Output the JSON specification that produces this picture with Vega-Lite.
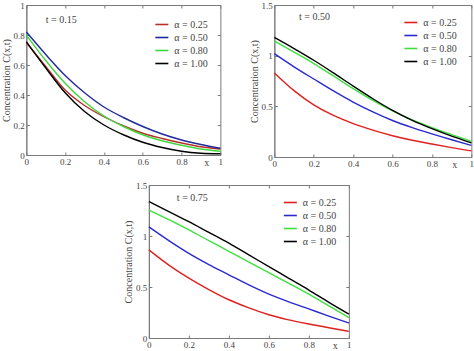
{
  "$schema": "https://vega.github.io/schema/vega-lite/v6.json",
  "padding": {"left": 0, "top": 0, "right": 0, "bottom": 0},
  "background": "white",
  "datasets": {
    "curves": [
      {"panel": "a", "alpha": "α = 0.25", "x": 0, "C": 0.75}, {"panel": "a", "alpha": "α = 0.25", "x": 0.1, "C": 0.59}, {"panel": "a", "alpha": "α = 0.25", "x": 0.2, "C": 0.433}, {"panel": "a", "alpha": "α = 0.25", "x": 0.3, "C": 0.33}, {"panel": "a", "alpha": "α = 0.25", "x": 0.4, "C": 0.255}, {"panel": "a", "alpha": "α = 0.25", "x": 0.5, "C": 0.195}, {"panel": "a", "alpha": "α = 0.25", "x": 0.6, "C": 0.145}, {"panel": "a", "alpha": "α = 0.25", "x": 0.7, "C": 0.11}, {"panel": "a", "alpha": "α = 0.25", "x": 0.8, "C": 0.08}, {"panel": "a", "alpha": "α = 0.25", "x": 0.9, "C": 0.055}, {"panel": "a", "alpha": "α = 0.25", "x": 1, "C": 0.04},
      {"panel": "a", "alpha": "α = 0.50", "x": 0, "C": 0.82}, {"panel": "a", "alpha": "α = 0.50", "x": 0.1, "C": 0.67}, {"panel": "a", "alpha": "α = 0.50", "x": 0.2, "C": 0.53}, {"panel": "a", "alpha": "α = 0.50", "x": 0.3, "C": 0.415}, {"panel": "a", "alpha": "α = 0.50", "x": 0.4, "C": 0.32}, {"panel": "a", "alpha": "α = 0.50", "x": 0.5, "C": 0.25}, {"panel": "a", "alpha": "α = 0.50", "x": 0.6, "C": 0.19}, {"panel": "a", "alpha": "α = 0.50", "x": 0.7, "C": 0.14}, {"panel": "a", "alpha": "α = 0.50", "x": 0.8, "C": 0.10}, {"panel": "a", "alpha": "α = 0.50", "x": 0.9, "C": 0.07}, {"panel": "a", "alpha": "α = 0.50", "x": 1, "C": 0.045},
      {"panel": "a", "alpha": "α = 0.80", "x": 0, "C": 0.80}, {"panel": "a", "alpha": "α = 0.80", "x": 0.1, "C": 0.63}, {"panel": "a", "alpha": "α = 0.80", "x": 0.2, "C": 0.478}, {"panel": "a", "alpha": "α = 0.80", "x": 0.3, "C": 0.355}, {"panel": "a", "alpha": "α = 0.80", "x": 0.4, "C": 0.26}, {"panel": "a", "alpha": "α = 0.80", "x": 0.5, "C": 0.19}, {"panel": "a", "alpha": "α = 0.80", "x": 0.6, "C": 0.135}, {"panel": "a", "alpha": "α = 0.80", "x": 0.7, "C": 0.095}, {"panel": "a", "alpha": "α = 0.80", "x": 0.8, "C": 0.065}, {"panel": "a", "alpha": "α = 0.80", "x": 0.9, "C": 0.04}, {"panel": "a", "alpha": "α = 0.80", "x": 1, "C": 0.025},
      {"panel": "a", "alpha": "α = 1.00", "x": 0, "C": 0.755}, {"panel": "a", "alpha": "α = 1.00", "x": 0.1, "C": 0.58}, {"panel": "a", "alpha": "α = 1.00", "x": 0.2, "C": 0.415}, {"panel": "a", "alpha": "α = 1.00", "x": 0.3, "C": 0.29}, {"panel": "a", "alpha": "α = 1.00", "x": 0.4, "C": 0.20}, {"panel": "a", "alpha": "α = 1.00", "x": 0.5, "C": 0.135}, {"panel": "a", "alpha": "α = 1.00", "x": 0.6, "C": 0.085}, {"panel": "a", "alpha": "α = 1.00", "x": 0.7, "C": 0.05}, {"panel": "a", "alpha": "α = 1.00", "x": 0.8, "C": 0.025}, {"panel": "a", "alpha": "α = 1.00", "x": 0.9, "C": 0.012}, {"panel": "a", "alpha": "α = 1.00", "x": 1, "C": 0.008},
      {"panel": "b", "alpha": "α = 0.25", "x": 0, "C": 0.83}, {"panel": "b", "alpha": "α = 0.25", "x": 0.1, "C": 0.655}, {"panel": "b", "alpha": "α = 0.25", "x": 0.2, "C": 0.515}, {"panel": "b", "alpha": "α = 0.25", "x": 0.3, "C": 0.41}, {"panel": "b", "alpha": "α = 0.25", "x": 0.4, "C": 0.33}, {"panel": "b", "alpha": "α = 0.25", "x": 0.5, "C": 0.265}, {"panel": "b", "alpha": "α = 0.25", "x": 0.6, "C": 0.21}, {"panel": "b", "alpha": "α = 0.25", "x": 0.7, "C": 0.165}, {"panel": "b", "alpha": "α = 0.25", "x": 0.8, "C": 0.128}, {"panel": "b", "alpha": "α = 0.25", "x": 0.9, "C": 0.093}, {"panel": "b", "alpha": "α = 0.25", "x": 1, "C": 0.06},
      {"panel": "b", "alpha": "α = 0.50", "x": 0, "C": 1.02}, {"panel": "b", "alpha": "α = 0.50", "x": 0.1, "C": 0.89}, {"panel": "b", "alpha": "α = 0.50", "x": 0.2, "C": 0.77}, {"panel": "b", "alpha": "α = 0.50", "x": 0.3, "C": 0.652}, {"panel": "b", "alpha": "α = 0.50", "x": 0.4, "C": 0.542}, {"panel": "b", "alpha": "α = 0.50", "x": 0.5, "C": 0.445}, {"panel": "b", "alpha": "α = 0.50", "x": 0.6, "C": 0.36}, {"panel": "b", "alpha": "α = 0.50", "x": 0.7, "C": 0.29}, {"panel": "b", "alpha": "α = 0.50", "x": 0.8, "C": 0.228}, {"panel": "b", "alpha": "α = 0.50", "x": 0.9, "C": 0.17}, {"panel": "b", "alpha": "α = 0.50", "x": 1, "C": 0.115},
      {"panel": "b", "alpha": "α = 0.80", "x": 0, "C": 1.145}, {"panel": "b", "alpha": "α = 0.80", "x": 0.1, "C": 1.035}, {"panel": "b", "alpha": "α = 0.80", "x": 0.2, "C": 0.922}, {"panel": "b", "alpha": "α = 0.80", "x": 0.3, "C": 0.80}, {"panel": "b", "alpha": "α = 0.80", "x": 0.4, "C": 0.675}, {"panel": "b", "alpha": "α = 0.80", "x": 0.5, "C": 0.558}, {"panel": "b", "alpha": "α = 0.80", "x": 0.6, "C": 0.455}, {"panel": "b", "alpha": "α = 0.80", "x": 0.7, "C": 0.365}, {"panel": "b", "alpha": "α = 0.80", "x": 0.8, "C": 0.29}, {"panel": "b", "alpha": "α = 0.80", "x": 0.9, "C": 0.22}, {"panel": "b", "alpha": "α = 0.80", "x": 1, "C": 0.155},
      {"panel": "b", "alpha": "α = 1.00", "x": 0, "C": 1.18}, {"panel": "b", "alpha": "α = 1.00", "x": 0.1, "C": 1.07}, {"panel": "b", "alpha": "α = 1.00", "x": 0.2, "C": 0.955}, {"panel": "b", "alpha": "α = 1.00", "x": 0.3, "C": 0.83}, {"panel": "b", "alpha": "α = 1.00", "x": 0.4, "C": 0.70}, {"panel": "b", "alpha": "α = 1.00", "x": 0.5, "C": 0.575}, {"panel": "b", "alpha": "α = 1.00", "x": 0.6, "C": 0.46}, {"panel": "b", "alpha": "α = 1.00", "x": 0.7, "C": 0.362}, {"panel": "b", "alpha": "α = 1.00", "x": 0.8, "C": 0.28}, {"panel": "b", "alpha": "α = 1.00", "x": 0.9, "C": 0.206}, {"panel": "b", "alpha": "α = 1.00", "x": 1, "C": 0.14},
      {"panel": "c", "alpha": "α = 0.25", "x": 0, "C": 0.864}, {"panel": "c", "alpha": "α = 0.25", "x": 0.1, "C": 0.715}, {"panel": "c", "alpha": "α = 0.25", "x": 0.2, "C": 0.587}, {"panel": "c", "alpha": "α = 0.25", "x": 0.3, "C": 0.475}, {"panel": "c", "alpha": "α = 0.25", "x": 0.4, "C": 0.375}, {"panel": "c", "alpha": "α = 0.25", "x": 0.5, "C": 0.295}, {"panel": "c", "alpha": "α = 0.25", "x": 0.6, "C": 0.228}, {"panel": "c", "alpha": "α = 0.25", "x": 0.7, "C": 0.178}, {"panel": "c", "alpha": "α = 0.25", "x": 0.8, "C": 0.137}, {"panel": "c", "alpha": "α = 0.25", "x": 0.9, "C": 0.10}, {"panel": "c", "alpha": "α = 0.25", "x": 1, "C": 0.065},
      {"panel": "c", "alpha": "α = 0.50", "x": 0, "C": 1.09}, {"panel": "c", "alpha": "α = 0.50", "x": 0.1, "C": 0.955}, {"panel": "c", "alpha": "α = 0.50", "x": 0.2, "C": 0.83}, {"panel": "c", "alpha": "α = 0.50", "x": 0.3, "C": 0.72}, {"panel": "c", "alpha": "α = 0.50", "x": 0.4, "C": 0.62}, {"panel": "c", "alpha": "α = 0.50", "x": 0.5, "C": 0.52}, {"panel": "c", "alpha": "α = 0.50", "x": 0.6, "C": 0.43}, {"panel": "c", "alpha": "α = 0.50", "x": 0.7, "C": 0.355}, {"panel": "c", "alpha": "α = 0.50", "x": 0.8, "C": 0.285}, {"panel": "c", "alpha": "α = 0.50", "x": 0.9, "C": 0.215}, {"panel": "c", "alpha": "α = 0.50", "x": 1, "C": 0.147},
      {"panel": "c", "alpha": "α = 0.80", "x": 0, "C": 1.255}, {"panel": "c", "alpha": "α = 0.80", "x": 0.1, "C": 1.16}, {"panel": "c", "alpha": "α = 0.80", "x": 0.2, "C": 1.06}, {"panel": "c", "alpha": "α = 0.80", "x": 0.3, "C": 0.955}, {"panel": "c", "alpha": "α = 0.80", "x": 0.4, "C": 0.85}, {"panel": "c", "alpha": "α = 0.80", "x": 0.5, "C": 0.745}, {"panel": "c", "alpha": "α = 0.80", "x": 0.6, "C": 0.64}, {"panel": "c", "alpha": "α = 0.80", "x": 0.7, "C": 0.535}, {"panel": "c", "alpha": "α = 0.80", "x": 0.8, "C": 0.43}, {"panel": "c", "alpha": "α = 0.80", "x": 0.9, "C": 0.315}, {"panel": "c", "alpha": "α = 0.80", "x": 1, "C": 0.20},
      {"panel": "c", "alpha": "α = 1.00", "x": 0, "C": 1.337}, {"panel": "c", "alpha": "α = 1.00", "x": 0.1, "C": 1.24}, {"panel": "c", "alpha": "α = 1.00", "x": 0.2, "C": 1.14}, {"panel": "c", "alpha": "α = 1.00", "x": 0.3, "C": 1.035}, {"panel": "c", "alpha": "α = 1.00", "x": 0.4, "C": 0.93}, {"panel": "c", "alpha": "α = 1.00", "x": 0.5, "C": 0.815}, {"panel": "c", "alpha": "α = 1.00", "x": 0.6, "C": 0.70}, {"panel": "c", "alpha": "α = 1.00", "x": 0.7, "C": 0.585}, {"panel": "c", "alpha": "α = 1.00", "x": 0.8, "C": 0.47}, {"panel": "c", "alpha": "α = 1.00", "x": 0.9, "C": 0.35}, {"panel": "c", "alpha": "α = 1.00", "x": 1, "C": 0.235}
    ],
    "notes": [
      {"panel": "a", "tx": 0.1, "ty": 0.9, "label": "t = 0.15"},
      {"panel": "b", "tx": 0.125, "ty": 1.38, "label": "t = 0.50"},
      {"panel": "c", "tx": 0.14, "ty": 1.37, "label": "t = 0.75"}
    ]
  },
  "vconcat": [
    {
      "hconcat": [
        {
          "width": 194, "height": 150,
          "layer": [
            {
              "data": {"name": "curves"},
              "transform": [{"filter": "datum.panel == 'a'"}],
              "mark": {"type": "line", "strokeWidth": 1.4, "interpolate": "monotone"},
              "encoding": {
                "x": {"field": "x", "type": "quantitative", "scale": {"domain": [0, 1], "nice": false}, "axis": {"values": [0, 0.2, 0.4, 0.6, 0.8, 1], "title": "x", "titleX": 180, "titleY": 2}},
                "y": {"field": "C", "type": "quantitative", "scale": {"domain": [0, 1], "nice": false}, "axis": {"values": [0, 0.2, 0.4, 0.6, 0.8, 1], "title": "Concentration C(x,t)"}},
                "color": {"field": "alpha", "type": "nominal", "scale": {"domain": ["α = 0.25", "α = 0.50", "α = 0.80", "α = 1.00"], "range": ["#b8302a", "#1f2a9a", "#3ed83e", "#000000"]}, "legend": {"orient": "none", "legendX": 128, "legendY": 12, "title": null}}
              }
            },
            {
              "data": {"name": "notes"},
              "transform": [{"filter": "datum.panel == 'a'"}],
              "mark": {"type": "text", "align": "left", "baseline": "middle", "fontSize": 10, "color": "#444444", "font": "Liberation Serif, DejaVu Serif, serif"},
              "encoding": {
                "x": {"field": "tx", "type": "quantitative", "axis": {"orient": "top", "values": [0, 0.2, 0.4, 0.6, 0.8, 1], "labels": false, "domain": false, "title": null}},
                "y": {"field": "ty", "type": "quantitative", "axis": {"orient": "right", "values": [0, 0.2, 0.4, 0.6, 0.8, 1], "labels": false, "domain": false, "title": null}},
                "text": {"field": "label"}
              }
            }
          ],
          "resolve": {"axis": {"x": "independent", "y": "independent"}}
        },
        {
          "width": 197, "height": 152,
          "layer": [
            {
              "data": {"name": "curves"},
              "transform": [{"filter": "datum.panel == 'b'"}],
              "mark": {"type": "line", "strokeWidth": 1.4, "interpolate": "monotone"},
              "encoding": {
                "x": {"field": "x", "type": "quantitative", "scale": {"domain": [0, 1], "nice": false}, "axis": {"values": [0, 0.2, 0.4, 0.6, 0.8, 1], "title": "x", "titleX": 180, "titleY": 2}},
                "y": {"field": "C", "type": "quantitative", "scale": {"domain": [0, 1.5], "nice": false}, "axis": {"values": [0, 0.5, 1, 1.5], "title": "Concentration C(x,t)"}},
                "color": {"field": "alpha", "type": "nominal", "scale": {"domain": ["α = 0.25", "α = 0.50", "α = 0.80", "α = 1.00"], "range": ["#e02020", "#2a2ad0", "#3ee03e", "#000000"]}, "legend": {"orient": "none", "legendX": 129, "legendY": 10, "title": null}}
              }
            },
            {
              "data": {"name": "notes"},
              "transform": [{"filter": "datum.panel == 'b'"}],
              "mark": {"type": "text", "align": "left", "baseline": "middle", "fontSize": 10, "color": "#444444", "font": "Liberation Serif, DejaVu Serif, serif"},
              "encoding": {
                "x": {"field": "tx", "type": "quantitative", "axis": {"orient": "top", "values": [0, 0.2, 0.4, 0.6, 0.8, 1], "labels": false, "domain": false, "title": null}},
                "y": {"field": "ty", "type": "quantitative", "axis": {"orient": "right", "values": [0, 0.5, 1, 1.5], "labels": false, "domain": false, "title": null}},
                "text": {"field": "label"}
              }
            }
          ],
          "resolve": {"axis": {"x": "independent", "y": "independent"}}
        }
      ],
      "spacing": 24,
      "resolve": {"scale": {"color": "independent"}, "legend": {"color": "independent"}}
    },
    {
      "width": 200, "height": 153,
      "layer": [
        {
          "data": {"name": "curves"},
          "transform": [{"filter": "datum.panel == 'c'"}],
          "mark": {"type": "line", "strokeWidth": 1.4, "interpolate": "monotone"},
          "encoding": {
            "x": {"field": "x", "type": "quantitative", "scale": {"domain": [0, 1], "nice": false}, "axis": {"values": [0, 0.2, 0.4, 0.6, 0.8, 1], "title": "x", "titleX": 186, "titleY": 2}},
            "y": {"field": "C", "type": "quantitative", "scale": {"domain": [0, 1.5], "nice": false}, "axis": {"values": [0, 0.5, 1, 1.5], "title": "Concentration C(x,t)"}},
            "color": {"field": "alpha", "type": "nominal", "scale": {"domain": ["α = 0.25", "α = 0.50", "α = 0.80", "α = 1.00"], "range": ["#e02020", "#2a2ad0", "#3ee03e", "#000000"]}, "legend": {"orient": "none", "legendX": 134, "legendY": 10, "title": null}}
          }
        },
        {
          "data": {"name": "notes"},
          "transform": [{"filter": "datum.panel == 'c'"}],
          "mark": {"type": "text", "align": "left", "baseline": "middle", "fontSize": 10, "color": "#444444", "font": "Liberation Serif, DejaVu Serif, serif"},
          "encoding": {
            "x": {"field": "tx", "type": "quantitative", "axis": {"orient": "top", "values": [0, 0.2, 0.4, 0.6, 0.8, 1], "labels": false, "domain": false, "title": null}},
            "y": {"field": "ty", "type": "quantitative", "axis": {"orient": "right", "values": [0, 0.5, 1, 1.5], "labels": false, "domain": false, "title": null}},
            "text": {"field": "label"}
          }
        }
      ],
      "resolve": {"axis": {"x": "independent", "y": "independent"}}
    }
  ],
  "spacing": 10,
  "center": true,
  "resolve": {"scale": {"color": "independent"}, "legend": {"color": "independent"}},
  "config": {
    "font": "Liberation Serif, DejaVu Serif, serif",
    "view": {"stroke": "#7a7a7a", "strokeWidth": 1},
    "axis": {
      "grid": false,
      "domainColor": "#7a7a7a",
      "tickColor": "#7a7a7a",
      "tickSize": -3,
      "labelPadding": 5,
      "labelFont": "Liberation Serif, DejaVu Serif, serif",
      "labelFontSize": 9,
      "labelColor": "#444444",
      "titleFont": "Liberation Serif, DejaVu Serif, serif",
      "titleFontSize": 10,
      "titleFontWeight": "normal",
      "titleColor": "#444444",
      "format": "~g"
    },
    "axisY": {"titlePadding": 2},
    "axisX": {"titleBaseline": "top", "titleAlign": "center", "labelFlush": false},
    "legend": {
      "symbolType": "stroke",
      "symbolSize": 169,
      "symbolStrokeWidth": 1.6,
      "labelFont": "Liberation Serif, DejaVu Serif, serif",
      "labelFontSize": 10,
      "labelColor": "#444444",
      "labelOffset": 5,
      "rowPadding": -2,
      "padding": 0
    }
  }
}
